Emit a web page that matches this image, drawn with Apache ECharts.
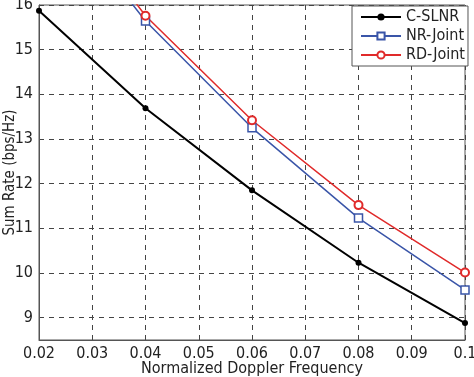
<!DOCTYPE html>
<html><head><meta charset="utf-8">
<script src="https://cdn.jsdelivr.net/npm/echarts@6/dist/echarts.min.js"></script>
<style>html,body{margin:0;padding:0;background:#fff}#c{width:474px;height:377px}</style>
</head><body><div id="c"></div>
<script>
const freqs = [0.02, 0.04, 0.06, 0.08, 0.10];
const cslnr = [15.87, 13.69, 11.85, 10.23, 8.88];
const nrJoint = [18.7, 15.64, 13.25, 11.23, 9.62];
const rdJoint = [18.9, 15.76, 13.42, 11.52, 10.01];
const xTicks = [0.02, 0.03, 0.04, 0.05, 0.06, 0.07, 0.08, 0.09, 0.10];
const yTicks = [9, 10, 11, 12, 13, 14, 15, 16];

const font = '"Liberation Sans Narrow", "DejaVu Sans Condensed", Arial, sans-serif';
const chart = echarts.init(document.getElementById('c'));
const pair = arr => freqs.map((f, i) => [f, arr[i]]);
chart.setOption({
  animation: false,
  backgroundColor: '#fff',
  grid: {left: 39, right: 9, top: 5, bottom: 37, show: true, borderColor: '#555', borderWidth: 1,
    outerBoundsMode: 'none', containLabel: false},
  legend: {
    left: 352, top: 6, orient: 'vertical', itemWidth: 40, itemHeight: 9, itemGap: 3,
    padding: [3, 3, 3, 8], backgroundColor: '#fff', borderColor: '#555', borderWidth: 1,
    textStyle: {fontFamily: font, fontSize: 16, lineHeight: 16, color: '#222'},
    data: ['C-SLNR', 'NR-Joint', 'RD-Joint']
  },
  xAxis: {
    type: 'value', min: 0.02, max: 0.1, interval: 0.01,
    name: 'Normalized Doppler Frequency', nameLocation: 'middle', nameGap: 21,
    nameMoveOverlap: false,
    nameTextStyle: {fontFamily: font, fontSize: 16, color: '#222'},
    axisLine: {lineStyle: {color: '#555'}},
    axisTick: {show: false},
    axisLabel: {fontFamily: font, fontSize: 16, color: '#222', margin: 6,
      formatter: v => String(+v.toFixed(2))},
    splitLine: {show: true, lineStyle: {color: '#444', type: [5, 5], width: 1}}
  },
  yAxis: {
    type: 'value', min: 8.5, max: 16,
    name: 'Sum Rate (bps/Hz)', nameLocation: 'middle', nameGap: 21,
    nameMoveOverlap: false,
    nameTextStyle: {fontFamily: font, fontSize: 15, color: '#222'},
    axisLine: {show: true, lineStyle: {color: '#555'}},
    axisTick: {show: false, customValues: yTicks},
    axisLabel: {fontFamily: font, fontSize: 16, color: '#222', margin: 6, customValues: yTicks,
      formatter: v => String(v)},
    splitLine: {show: true, lineStyle: {color: '#444', type: [5, 5], width: 1}}
  },
  series: [
    {name: 'C-SLNR', type: 'line', data: pair(cslnr), symbol: 'circle', symbolSize: 6,
      lineStyle: {color: '#000', width: 2}, itemStyle: {color: '#000'}},
    {name: 'NR-Joint', type: 'line', data: pair(nrJoint), symbol: 'rect', symbolSize: 8,
      lineStyle: {color: '#3a55a8', width: 1.5}, itemStyle: {color: '#fff', borderColor: '#3a55a8', borderWidth: 1.5}},
    {name: 'RD-Joint', type: 'line', data: pair(rdJoint), symbol: 'emptyCircle', symbolSize: 8,
      lineStyle: {color: '#e02a2a', width: 1.5}, itemStyle: {color: '#e02a2a', borderColor: '#e02a2a', borderWidth: 1.5}}
  ]
});
</script></body></html>
